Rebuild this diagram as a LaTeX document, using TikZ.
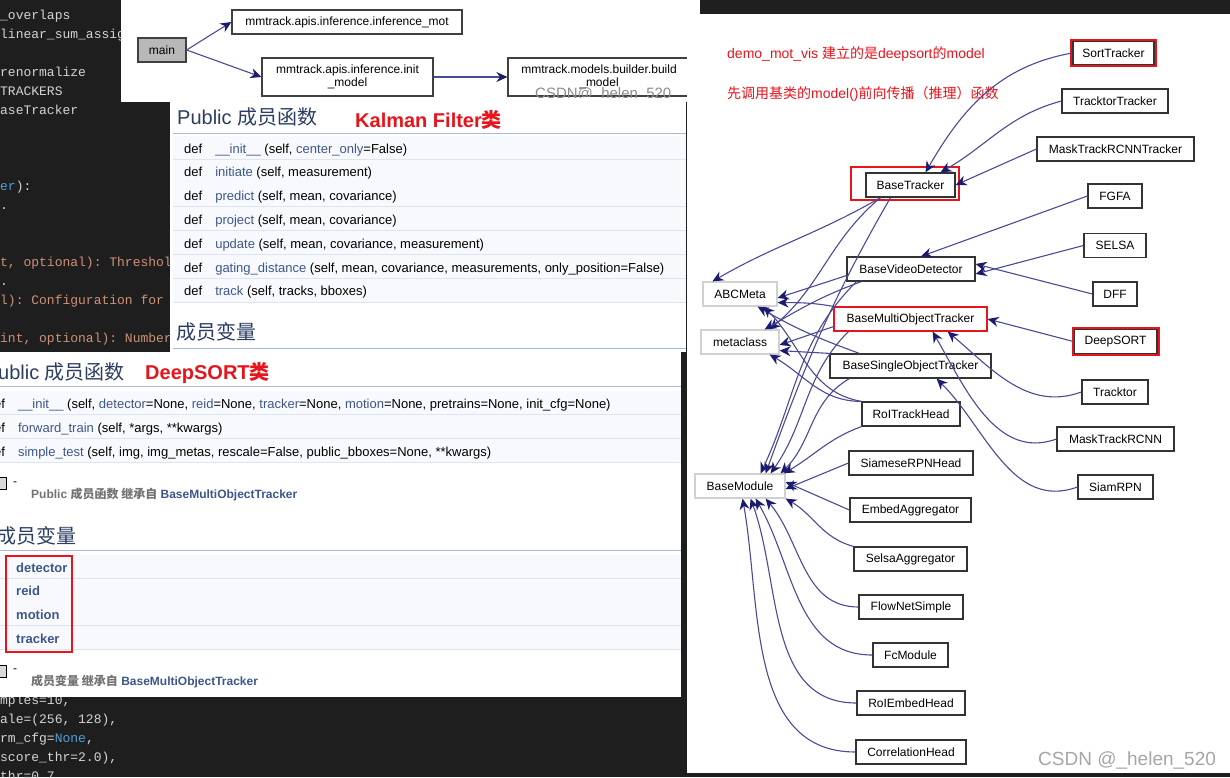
\documentclass[tikz,border=0pt]{standalone}
\usepackage{fontspec}
\setmainfont{Liberation Sans}
\setmonofont{Liberation Mono}
\newfontfamily\cjk{Noto Sans CJK SC}
\usetikzlibrary{arrows.meta}
\definecolor{codebg}{HTML}{1E1E1E}
\definecolor{codetxt}{HTML}{D4D4D4}
\definecolor{codeor}{HTML}{CE9178}
\definecolor{codebl}{HTML}{569CD6}
\definecolor{dox}{HTML}{3D578C}
\definecolor{rowbg}{HTML}{F8F9FC}
\definecolor{rowline}{HTML}{DEE4F0}
\definecolor{hline}{HTML}{A8B8D9}
\definecolor{navy}{HTML}{1C1C6E}
\definecolor{edgec}{HTML}{4A4A96}
\definecolor{redm}{HTML}{E8141C}
\tikzset{
 code/.style={anchor=base west,inner sep=0,font=\ttfamily\fontsize{13}{13}\selectfont,text=codetxt},
 cls/.style={draw=black!80,line width=1.2pt,fill=white,minimum height=24pt,inner sep=0,font=\fontsize{12}{12}\selectfont},
 clsl/.style={draw=black!18,line width=1.2pt,fill=white,minimum height=24pt,inner sep=0,font=\fontsize{12}{12}\selectfont},
 hl/.style={draw=redm,line width=1.6pt},
 edge/.style={draw=edgec,line width=1.1pt,-{Stealth[length=11pt,width=10pt,navy]}},
 row/.style={anchor=base west,inner sep=0,font=\fontsize{13}{13}\selectfont},
 dtitle/.style={anchor=base west,inner sep=0,font=\fontsize{20}{20}\selectfont,text=dox!70!black},
 rtitle/.style={anchor=base west,inner sep=0,font=\bfseries\fontsize{20}{20}\selectfont,text=redm},
 note/.style={anchor=base west,inner sep=0,font=\fontsize{14}{14}\selectfont,text=redm},
 gbox/.style={draw=black!75,line width=1.2pt,fill=white,minimum height=24pt,inner sep=2pt,font=\fontsize{12}{13}\selectfont,align=center}
}
\newcommand{\nm}[1]{\textcolor{dox}{#1}}
\begin{document}
\begin{tikzpicture}[x=1pt,y=-1pt]
\useasboundingbox (0,0) rectangle (1230,777);
\fill[codebg] (0,0) rectangle (1230,777);
% code text
\node[code] (c1) at (0,19) {\_overlaps};
\node[code] (c2) at (0,38) {linear\_sum\_assig};
\node[code] (c3) at (0,76) {renormalize};
\node[code] (c4) at (0,95) {TRACKERS};
\node[code] (c5) at (0,114) {aseTracker};
\node[code] (c6) at (0,190) {\textcolor{codebl}{er}):};
\node[code] (c7) at (0,209) {.};
\node[code,text=codeor] (c8) at (0,266) {t, optional): Threshol};
\node[code] (c9) at (0,285) {.};
\node[code,text=codeor] (c10) at (0,304) {l): Configuration for};
\node[code,text=codeor] (c11) at (0,342) {int, optional): Number};
\node[code] (c12) at (0,704) {mples=10,};
\node[code] (c13) at (0,723) {ale=(256, 128),};
\node[code] (c14) at (0,742) {rm\_cfg=\textcolor{codebl}{None},};
\node[code] (c15) at (0,761) {score\_thr=2.0),};
\node[code] (c16) at (0,780) {thr=0.7};
% top call graph panel
\fill[white] (121,0) rectangle (700,102);
\node[gbox,fill=black!28,minimum width=48pt] (main) at (162,50) {main};
\node[gbox,minimum width=230pt] (mot) at (347,22) {mmtrack.apis.inference.inference\_mot};
\node[gbox,minimum width=171pt,minimum height=38pt] (init) at (347.5,77) {mmtrack.apis.inference.init\\\_model};
\node[gbox,minimum width=182pt,minimum height=38pt] (build) at (599,77) {mmtrack.models.builder.build\\\_model};
\draw[edge] (main.east) -- (mot.west);
\draw[edge] (main.east) -- (init.west);
\draw[edge] (init.east) -- (build.west);
\node[anchor=base west,inner sep=0,text=black!45,font=\fontsize{15}{15}\selectfont] (wm1) at (535,98) {CSDN@\_helen\_520};
% Kalman panel
\fill[white] (170,98) rectangle (686,352);
\node[dtitle] (kt) at (177,124) {Public {\cjk 成员函数}};
\node[rtitle] (kr) at (355,127) {Kalman Filter{\cjk 类}};
\draw[hline,line width=1pt] (173,133) -- (686,133);
\foreach \y in {136,160,183,207,231,255,279}{
 \fill[rowbg] (173,\y) rectangle (686,\y+23);
 \draw[rowline] (173,\y+23) -- (686,\y+23);}
\node[row] (k1) at (184,153) {def\quad \nm{\_\_init\_\_} (self, \nm{center\_only}=False)};
\node[row] (k2) at (184,176) {def\quad \nm{initiate} (self, measurement)};
\node[row] (k3) at (184,200) {def\quad \nm{predict} (self, mean, covariance)};
\node[row] (k4) at (184,224) {def\quad \nm{project} (self, mean, covariance)};
\node[row] (k5) at (184,248) {def\quad \nm{update} (self, mean, covariance, measurement)};
\node[row] (k6) at (184,272) {def\quad \nm{gating\_distance} (self, mean, covariance, measurements, only\_position=False)};
\node[row] (k7) at (184,295) {def\quad \nm{track} (self, tracks, bboxes)};
\node[dtitle] (kv) at (176,339) {\cjk 成员变量};
\draw[hline,line width=1pt] (173,348) -- (686,348);
% DeepSORT panel
\fill[white] (0,352) rectangle (681,697);
\node[dtitle] (dt) at (-2,379) {ublic {\cjk 成员函数}};
\node[rtitle] (dr) at (145,379) {DeepSORT{\cjk 类}};
\draw[hline,line width=1pt] (0,386) -- (681,386);
\foreach \y in {391,415,439}{
 \fill[rowbg] (0,\y) rectangle (681,\y+23);
 \draw[rowline] (0,\y+23) -- (681,\y+23);}
\node[row] (d1) at (-6,408) {ef\quad \nm{\_\_init\_\_} (self, \nm{detector}=None, \nm{reid}=None, \nm{tracker}=None, \nm{motion}=None, pretrains=None, init\_cfg=None)};
\node[row] (d2) at (-6,432) {ef\quad \nm{forward\_train} (self, *args, **kwargs)};
\node[row] (d3) at (-6,456) {ef\quad \nm{simple\_test} (self, img, img\_metas, rescale=False, public\_bboxes=None, **kwargs)};
\draw[black,line width=1pt,fill=black!15] (-2,477) rectangle (6,489);
\node[row,font=\fontsize{12}{12}\selectfont] (dash1) at (13,485) {-};
\node[row,font=\bfseries\fontsize{12}{12}\selectfont,text=black!55] (inh1) at (31,498) {Public {\cjk 成员函数 继承自} \textcolor{dox}{BaseMultiObjectTracker}};
\node[dtitle] (dv) at (-4,543) {\cjk 成员变量};
\draw[hline,line width=1pt] (0,550) -- (681,550);
\foreach \y in {555,579,602,626}{
 \fill[rowbg] (0,\y) rectangle (681,\y+23);
 \draw[rowline] (0,\y+23) -- (681,\y+23);}
\node[row,font=\bfseries\fontsize{13}{13}\selectfont,text=dox] (v1) at (16,572) {detector};
\node[row,font=\bfseries\fontsize{13}{13}\selectfont,text=dox] (v2) at (16,595) {reid};
\node[row,font=\bfseries\fontsize{13}{13}\selectfont,text=dox] (v3) at (16,619) {motion};
\node[row,font=\bfseries\fontsize{13}{13}\selectfont,text=dox] (v4) at (16,643) {tracker};
\draw[hl] (6,556) rectangle (72,652);
\draw[black,line width=1pt,fill=black!15] (-2,665) rectangle (6,677);
\node[row,font=\fontsize{12}{12}\selectfont] (dash2) at (13,672) {-};
\node[row,font=\bfseries\fontsize{12}{12}\selectfont,text=black!55] (inh2) at (31,685) {{\cjk 成员变量 继承自} \textcolor{dox}{BaseMultiObjectTracker}};
% right panel
\fill[white] (687,14) rectangle (1230,773);
\node[note] (n1) at (727,58) {demo\_mot\_vis {\cjk 建立的是}deepsort{\cjk 的}model};
\node[note] (n2) at (727,98) {{\cjk 先调用基类的}model(){\cjk 前向传播（推理）函数}};
\node[cls,minimum width=81pt] (sort) at (1113.5,53) {SortTracker};
\node[cls,minimum width=106pt] (tt) at (1115,101) {TracktorTracker};
\node[cls,minimum width=157pt] (mtrt) at (1115.5,149) {MaskTrackRCNNTracker};
\node[cls,minimum width=89pt] (bt) at (910.5,185) {BaseTracker};
\node[cls,minimum width=54pt] (fgfa) at (1115,196) {FGFA};
\node[cls,minimum width=62pt] (selsa) at (1115,245.5) {SELSA};
\node[cls,minimum width=128pt] (bvd) at (911,269) {BaseVideoDetector};
\node[cls,minimum width=44pt] (dff) at (1115,294) {DFF};
\node[clsl,minimum width=74pt] (abc) at (740,294) {ABCMeta};
\node[cls,minimum width=153pt] (bmot) at (910.5,319) {BaseMultiObjectTracker};
\node[cls,minimum width=83pt] (ds) at (1115.5,341.5) {DeepSORT};
\node[clsl,minimum width=78pt] (meta) at (740,342) {metaclass};
\node[cls,minimum width=161pt] (bsot) at (910.5,366) {BaseSingleObjectTracker};
\node[cls,minimum width=66pt] (tr) at (1115,392) {Tracktor};
\node[cls,minimum width=98pt] (roit) at (911,414) {RoITrackHead};
\node[cls,minimum width=117pt] (mtr) at (1115.5,439) {MaskTrackRCNN};
\node[cls,minimum width=75pt] (siam) at (1115.5,487) {SiamRPN};
\node[clsl,minimum width=90pt] (bm) at (740,486) {BaseModule};
\node[cls,minimum width=124pt] (srh) at (911,463) {SiameseRPNHead};
\node[cls,minimum width=121pt] (ea) at (910.5,510) {EmbedAggregator};
\node[cls,minimum width=113pt] (sa) at (910.5,559) {SelsaAggregator};
\node[cls,minimum width=104pt] (fns) at (911,607) {FlowNetSimple};
\node[cls,minimum width=75pt] (fc) at (910.5,655) {FcModule};
\node[cls,minimum width=108pt] (reh) at (911,703) {RoIEmbedHead};
\node[cls,minimum width=110pt] (ch) at (911,752) {CorrelationHead};
\draw[hl] (1071,40) rectangle (1156,66);
\draw[hl] (851,167) rectangle (959,200);
\draw[hl] (834,307) rectangle (987,331);
\draw[hl] (1073,328) rectangle (1159,355);
% edges
\draw[edge] (sort.west) to[out=190,in=60] ([xshift=15pt]bt.north);
\draw[edge] (tt.west) to[out=195,in=30] ([xshift=30pt]bt.north);
\draw[edge] (mtrt.west) -- (bt.east);
\draw[edge] (fgfa.west) -- ([xshift=10pt]bvd.north);
\draw[edge] (selsa.west) -- ([yshift=-5pt]bvd.east);
\draw[edge] (dff.west) -- ([yshift=5pt]bvd.east);
\draw[edge] (ds.west) -- (bmot.east);
\draw[edge] (tr.west) to[out=200,in=-40] ([xshift=-40pt]bmot.south east);
\draw[edge] (mtr.west) to[out=200,in=-60] ([xshift=-55pt]bmot.south east);
\draw[edge] (siam.west) to[out=200,in=-45] ([xshift=-55pt]bsot.south east);
% to ABCMeta / metaclass / BaseModule
\draw[edge] ([xshift=-30pt]bt.south) to[out=210,in=30] ([xshift=10pt]abc.north west);
\draw[edge] ([xshift=-30pt]bt.south) to[out=220,in=40] ([xshift=-10pt]meta.north east);
\draw[edge] ([xshift=-20pt]bt.south) to[out=240,in=70] ([xshift=-20pt]bm.north east);
\draw[edge] ([yshift=6pt]bvd.south west) -- ([yshift=-4pt]abc.east);
\draw[edge] ([xshift=15pt]bvd.south west) to[out=200,in=30] ([xshift=-15pt]meta.north east);
\draw[edge] ([xshift=10pt]bvd.south west) to[out=225,in=65] ([xshift=-25pt]bm.north east);
\draw[edge] (bmot.north west) to[out=170,in=0] ([yshift=4pt]abc.south east);
\draw[edge] ([yshift=5pt]bmot.south west) -- ([yshift=-3pt]meta.east);
\draw[edge] ([xshift=15pt]bmot.south west) to[out=225,in=55] ([xshift=-15pt]bm.north east);
\draw[edge] ([xshift=30pt]bsot.north west) to[out=160,in=-30] ([xshift=-20pt]abc.south east);
\draw[edge] (bsot.north west) -- ([yshift=4pt]meta.south east);
\draw[edge] ([xshift=20pt]bsot.south west) to[out=210,in=45] ([xshift=-5pt]bm.north east);
\draw[edge] (roit.north west) to[out=170,in=-45] ([xshift=-14pt]abc.south east);
\draw[edge] (roit.north west) to[out=180,in=-30] ([xshift=-10pt]meta.south east);
\draw[edge] (roit.south west) to[out=200,in=30] ([xshift=-2pt]bm.north east);
\draw[edge] (srh.west) -- ([yshift=-3pt]bm.east);
\draw[edge] (ea.west) -- ([yshift=4pt]bm.east);
\draw[edge] (sa.north west) to[out=165,in=-30] (bm.south east);
\draw[edge] (fns.west) to[out=180,in=-50] ([xshift=-20pt]bm.south east);
\draw[edge] (fc.west) to[out=180,in=-60] ([xshift=-30pt]bm.south east);
\draw[edge] (reh.west) to[out=180,in=-70] ([xshift=-35pt]bm.south east);
\draw[edge] (ch.west) to[out=180,in=-80] ([xshift=-43pt]bm.south east);
\node[anchor=base west,inner sep=0,text=black!35,font=\fontsize{19}{19}\selectfont] (wm2) at (1038,765) {CSDN @\_helen\_520};
\end{tikzpicture}
\end{document}
